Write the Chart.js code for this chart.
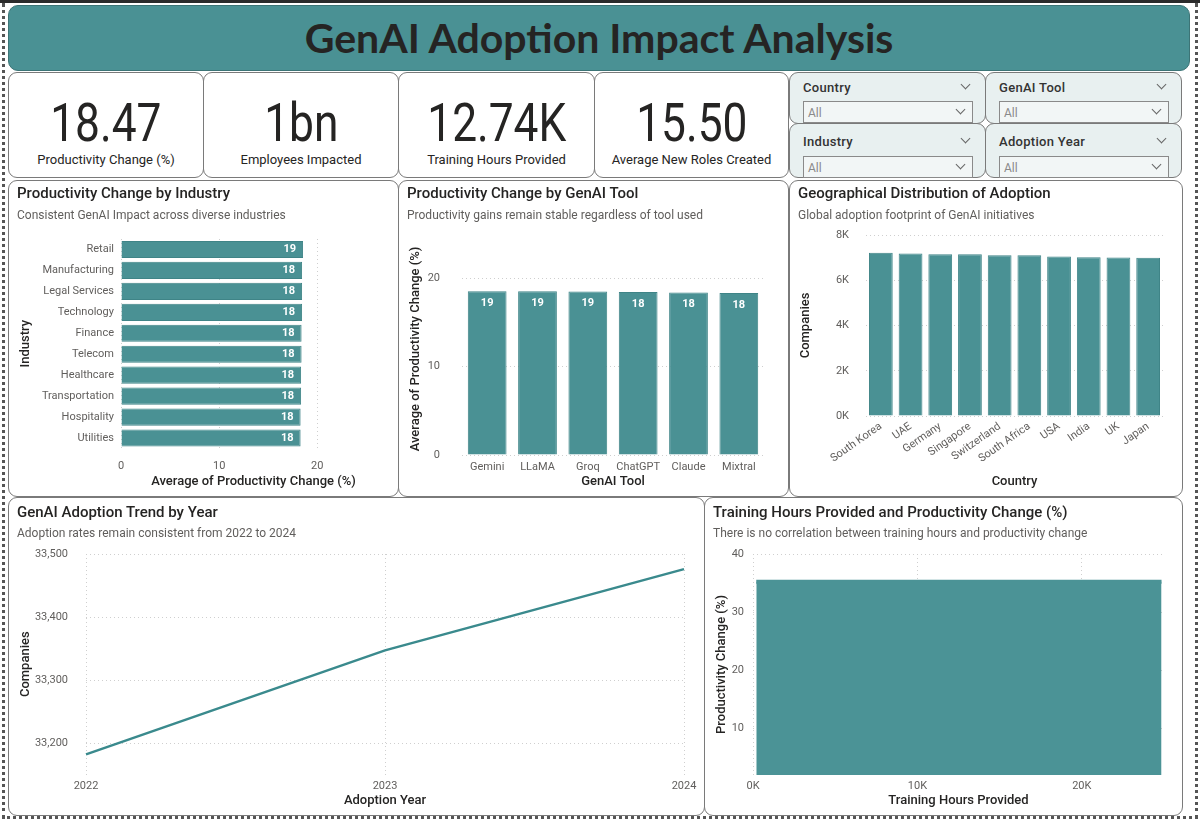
<!DOCTYPE html>
<html>
<head>
<meta charset="utf-8">
<title>GenAI Adoption Impact Analysis</title>
<script src="https://cdn.jsdelivr.net/npm/chart.js@4.4.1/dist/chart.umd.min.js"></script>
<style>
  body { margin: 0; width: 1200px; height: 821px; background: #fff; font-family: Roboto, "Noto Sans", sans-serif; color: #252423; position: relative; overflow: hidden; }
  .topbar { position: absolute; left: 0; top: 0; width: 1200px; height: 3px; background: #2b2b2b; }
  .frame { position: absolute; left: 2px; top: 3px; width: 1190px; height: 813px; border-left: 3px dotted #555; border-right: 3px dotted #555; border-bottom: 3px dotted #555; }
  .banner { position: absolute; left: 8px; top: 5px; width: 1182px; height: 66px; box-sizing: border-box; background: #4a9194; border: 1px solid #3c7476; border-radius: 10px; text-align: center; font-family: Lato, sans-serif; font-weight: 700; font-size: 41px; line-height: 64px; color: #252423; }
  .box { position: absolute; background: #fff; border: 1px solid #7a7a7a; border-radius: 9px; box-sizing: border-box; }
  .box canvas { position: absolute; left: -1px; top: -1px; }
  .num { position: absolute; left: 0; right: 0; top: 21px; text-align: center; font-size: 54px; line-height: 58px; color: #252423; }
  .num span { display: inline-block; transform: scaleX(0.82); }
  .lbl { position: absolute; left: 0; right: 0; top: 79px; text-align: center; font-size: 13px; line-height: 16px; color: #252423; }
  .slicer { background: #e8f0f0; }
  .slicer .name { position: absolute; left: 13px; font-size: 13px; font-weight: 500; line-height: 16px; letter-spacing: 0.3px; color: #333; }
  .chev { position: absolute; width: 6px; height: 6px; border-right: 1px solid #666; border-bottom: 1px solid #666; transform: rotate(45deg); }
  .drop { position: absolute; left: 13px; width: 170px; height: 22px; box-sizing: border-box; border: 1.5px solid #8a8a8a; background: #f2f6f6; }
  .drop .all { position: absolute; left: 4px; top: 4px; font-size: 12px; line-height: 14px; color: #8a8a8a; }
  .ptitle { position: absolute; left: 8px; font-size: 15px; font-weight: 500; line-height: 18px; color: #252423; z-index: 2; }
  .psub { position: absolute; left: 8px; font-size: 12px; line-height: 16px; color: #605e5c; z-index: 2; }
</style>
</head>
<body>
<div class="topbar"></div>
<div class="frame"></div>
<div class="banner">GenAI Adoption Impact Analysis</div>

<div class="box" style="left:8px;top:72px;width:196px;height:106px;">
  <div class="num"><span>18.47</span></div>
  <div class="lbl">Productivity Change (%)</div>
</div>
<div class="box" style="left:203px;top:72px;width:196px;height:106px;">
  <div class="num"><span>1bn</span></div>
  <div class="lbl">Employees Impacted</div>
</div>
<div class="box" style="left:398px;top:72px;width:197px;height:106px;">
  <div class="num"><span>12.74K</span></div>
  <div class="lbl">Training Hours Provided</div>
</div>
<div class="box" style="left:594px;top:72px;width:195px;height:106px;">
  <div class="num"><span>15.50</span></div>
  <div class="lbl">Average New Roles Created</div>
</div>

<div class="box slicer" style="left:789px;top:72px;width:197px;height:52px;">
  <div class="name" style="top:7px;">Country</div><div class="chev" style="right:16px;top:8px;"></div>
  <div class="drop" style="top:28px;"><div class="all">All</div><div class="chev" style="right:8px;top:4px;"></div></div>
</div>
<div class="box slicer" style="left:985px;top:72px;width:197px;height:52px;">
  <div class="name" style="top:7px;">GenAI Tool</div><div class="chev" style="right:16px;top:8px;"></div>
  <div class="drop" style="top:28px;"><div class="all">All</div><div class="chev" style="right:8px;top:4px;"></div></div>
</div>
<div class="box slicer" style="left:789px;top:123px;width:197px;height:55px;">
  <div class="name" style="top:10px;">Industry</div><div class="chev" style="right:16px;top:11px;"></div>
  <div class="drop" style="top:32px;"><div class="all">All</div><div class="chev" style="right:8px;top:4px;"></div></div>
</div>
<div class="box slicer" style="left:985px;top:123px;width:197px;height:55px;">
  <div class="name" style="top:10px;">Adoption Year</div><div class="chev" style="right:16px;top:11px;"></div>
  <div class="drop" style="top:32px;"><div class="all">All</div><div class="chev" style="right:8px;top:4px;"></div></div>
</div>

<div class="box" style="left:8px;top:180px;width:391px;height:317px;">
  <div class="ptitle" style="top:3px;">Productivity Change by Industry</div>
  <div class="psub" style="top:26px;">Consistent GenAI Impact across diverse industries</div>
  <canvas id="industryChart" width="391" height="317"></canvas>
</div>
<div class="box" style="left:398px;top:180px;width:391px;height:317px;">
  <div class="ptitle" style="top:3px;">Productivity Change by GenAI Tool</div>
  <div class="psub" style="top:26px;">Productivity gains remain stable regardless of tool used</div>
  <canvas id="toolChart" width="391" height="317"></canvas>
</div>
<div class="box" style="left:789px;top:180px;width:394px;height:317px;">
  <div class="ptitle" style="top:3px;">Geographical Distribution of Adoption</div>
  <div class="psub" style="top:26px;">Global adoption footprint of GenAI initiatives</div>
  <canvas id="countryChart" width="394" height="317"></canvas>
</div>
<div class="box" style="left:8px;top:497px;width:697px;height:319px;">
  <div class="ptitle" style="top:5px;">GenAI Adoption Trend by Year</div>
  <div class="psub" style="top:27px;">Adoption rates remain consistent from 2022 to 2024</div>
  <canvas id="yearChart" width="697" height="319"></canvas>
</div>
<div class="box" style="left:704px;top:497px;width:479px;height:319px;">
  <div class="ptitle" style="top:5px;">Training Hours Provided and Productivity Change (%)</div>
  <div class="psub" style="top:27px;">There is no correlation between training hours and productivity change</div>
  <canvas id="scatterChart" width="479" height="319"></canvas>
</div>

<script>
var industries = ["Retail", "Manufacturing", "Legal Services", "Technology", "Finance", "Telecom", "Healthcare", "Transportation", "Hospitality", "Utilities"];
var industryChange = [18.55, 18.45, 18.45, 18.45, 18.4, 18.4, 18.35, 18.35, 18.3, 18.3];

var tools = ["Gemini", "LLaMA", "Groq", "ChatGPT", "Claude", "Mixtral"];
var toolChange = [18.55, 18.54, 18.52, 18.45, 18.4, 18.35];

var countries = ["South Korea", "UAE", "Germany", "Singapore", "Switzerland", "South Africa", "USA", "India", "UK", "Japan"];
var countryCompanies = [7220, 7180, 7150, 7150, 7100, 7100, 7050, 7020, 7010, 6990];

var years = ["2022", "2023", "2024"];
var yearCompanies = [33182, 33347, 33476];

// outline of the dense training hours / productivity point cloud
var cloudHours = [200, 24850];
var cloudTopChange = [35.2, 35.2];
var hourTicks = [0, 10000, 20000];
var changeTicks = [10, 20, 30, 40];

var teal = "#4a9194";
var tealEdge = "#3f8487";
var lineTeal = "#3a8a8d";
var tickColor = "#605e5c";
var titleColor = "#252423";
var tickFont = { family: "Roboto", size: 11 };
var titleFont = { family: "Roboto", size: 13, weight: "500" };

function fixWidth(w) { return function (s) { s.width = w; }; }
function fixHeight(h) { return function (s) { s.height = h; }; }
function onlySteps(step) {
  return function (s) {
    s.ticks = s.ticks.filter(function (t) {
      var r = t.value / step;
      return Math.abs(r - Math.round(r)) < 1e-6;
    });
  };
}
function useTicks(list) {
  return function (s) {
    s.ticks = list.map(function (v) { return { value: v }; });
  };
}
function dotted(show) {
  return { display: show, color: "#cfcfcf", drawTicks: false };
}
var noGrid = { display: false, drawTicks: false };
function axisTitle(text) {
  return { display: true, text: text, font: titleFont, color: titleColor, padding: { top: 4, bottom: 4 } };
}
function kFormat(v) { return (v / 1000) + "K"; }

var barLabels = {
  id: "barLabels",
  afterDatasetsDraw: function (chart) {
    var ctx = chart.ctx;
    var values = chart.data.datasets[0].data;
    ctx.save();
    ctx.fillStyle = "#ffffff";
    ctx.font = "bold 11px Roboto";
    chart.getDatasetMeta(0).data.forEach(function (bar, i) {
      var text = String(Math.round(values[i]));
      if (chart.options.indexAxis === "y") {
        ctx.textAlign = "right";
        ctx.textBaseline = "middle";
        ctx.fillText(text, bar.x - 7, bar.y);
      } else {
        ctx.textAlign = "center";
        ctx.textBaseline = "middle";
        ctx.fillText(text, bar.x, bar.y + 12);
      }
    });
    ctx.restore();
  }
};

var base = {
  responsive: false,
  animation: false,
  devicePixelRatio: 1,
  plugins: { legend: { display: false }, tooltip: { enabled: false } }
};

new Chart(document.getElementById("industryChart"), {
  type: "bar",
  data: {
    labels: industries,
    datasets: [{ data: industryChange, backgroundColor: teal, borderColor: tealEdge, borderWidth: 1, barPercentage: 0.82, categoryPercentage: 1 }]
  },
  options: Object.assign({}, base, {
    indexAxis: "y",
    layout: { padding: { top: 59, right: 13, bottom: 3, left: 6 } },
    scales: {
      x: {
        min: 0, max: 27,
        ticks: { stepSize: 10, padding: 11, font: tickFont, color: tickColor, autoSkip: false },
        afterBuildTicks: onlySteps(10),
        afterFit: fixHeight(45.5),
        grid: dotted(true),
        border: { display: false, dash: [1, 3] },
        title: axisTitle("Average of Productivity Change (%)")
      },
      y: {
        ticks: { padding: 7, font: tickFont, color: tickColor, autoSkip: false },
        afterFit: fixWidth(107),
        grid: noGrid,
        border: { display: false },
        title: axisTitle("Industry")
      }
    }
  }),
  plugins: [barLabels]
});

new Chart(document.getElementById("toolChart"), {
  type: "bar",
  data: {
    labels: tools,
    datasets: [{ data: toolChange, backgroundColor: teal, borderColor: tealEdge, borderWidth: 1, barPercentage: 0.77, categoryPercentage: 1 }]
  },
  options: Object.assign({}, base, {
    layout: { padding: { top: 63, right: 25, bottom: 3, left: 6 } },
    scales: {
      x: {
        ticks: { padding: 6, font: tickFont, color: tickColor, autoSkip: false },
        afterFit: fixHeight(39),
        grid: noGrid,
        border: { display: false },
        title: axisTitle("GenAI Tool")
      },
      y: {
        min: 0, max: 24,
        ticks: { stepSize: 10, padding: 22, font: tickFont, color: tickColor, autoSkip: false },
        afterBuildTicks: onlySteps(10),
        afterFit: fixWidth(58),
        grid: dotted(true),
        border: { display: false, dash: [1, 3] },
        title: axisTitle("Average of Productivity Change (%)")
      }
    }
  }),
  plugins: [barLabels]
});

new Chart(document.getElementById("countryChart"), {
  type: "bar",
  data: {
    labels: countries,
    datasets: [{ data: countryCompanies, backgroundColor: teal, borderColor: tealEdge, borderWidth: 1, barPercentage: 0.8, categoryPercentage: 1 }]
  },
  options: Object.assign({}, base, {
    layout: { padding: { top: 55, right: 20, bottom: 3, left: 5 } },
    scales: {
      x: {
        ticks: { padding: 4, font: tickFont, color: tickColor, autoSkip: false, minRotation: 35, maxRotation: 35 },
        afterFit: fixHeight(78),
        grid: noGrid,
        border: { display: false },
        title: axisTitle("Country")
      },
      y: {
        min: 0, max: 8000,
        ticks: { stepSize: 2000, padding: 17, font: tickFont, color: tickColor, callback: kFormat, autoSkip: false },
        afterFit: fixWidth(72),
        grid: dotted(true),
        border: { display: false, dash: [1, 3] },
        title: axisTitle("Companies")
      }
    }
  })
});

new Chart(document.getElementById("yearChart"), {
  type: "line",
  data: {
    labels: years,
    datasets: [{ data: yearCompanies, borderColor: lineTeal, borderWidth: 2.5, pointRadius: 0, tension: 0, fill: false }]
  },
  options: Object.assign({}, base, {
    layout: { padding: { top: 57, right: 21, bottom: 3, left: 6 } },
    scales: {
      x: {
        offset: false,
        ticks: { padding: 5, font: tickFont, color: tickColor, autoSkip: false },
        afterFit: fixHeight(38.5),
        grid: dotted(true),
        border: { display: false, dash: [1, 3] },
        title: axisTitle("Adoption Year")
      },
      y: {
        min: 33150, max: 33500,
        ticks: { stepSize: 100, padding: 18, font: tickFont, color: tickColor, autoSkip: false, callback: function (v) { return v.toLocaleString("en-US"); } },
        afterBuildTicks: onlySteps(100),
        afterFit: fixWidth(72),
        grid: dotted(true),
        border: { display: false, dash: [1, 3] },
        title: axisTitle("Companies")
      }
    }
  })
});

new Chart(document.getElementById("scatterChart"), {
  type: "line",
  data: {
    datasets: [{
      data: cloudHours.map(function (h, i) { return { x: h, y: cloudTopChange[i] }; }),
      borderColor: "#4b9396",
      backgroundColor: "#4b9396",
      borderWidth: 4,
      pointRadius: 0,
      fill: "start"
    }]
  },
  options: Object.assign({}, base, {
    layout: { padding: { top: 57, right: 19, bottom: 3, left: 6 } },
    scales: {
      x: {
        type: "linear", min: 0, max: 25000,
        ticks: { padding: 5, font: tickFont, color: tickColor, callback: kFormat, autoSkip: false },
        afterBuildTicks: useTicks(hourTicks),
        afterFit: fixHeight(38),
        grid: dotted(true),
        border: { display: false, dash: [1, 3] },
        title: axisTitle("Training Hours Provided")
      },
      y: {
        min: 1.9, max: 40,
        ticks: { padding: 9, font: tickFont, color: tickColor, autoSkip: false },
        afterBuildTicks: useTicks(changeTicks),
        afterFit: fixWidth(43),
        grid: dotted(true),
        border: { display: false, dash: [1, 3] },
        title: axisTitle("Productivity Change (%)")
      }
    }
  })
});
</script>
</body>
</html>
